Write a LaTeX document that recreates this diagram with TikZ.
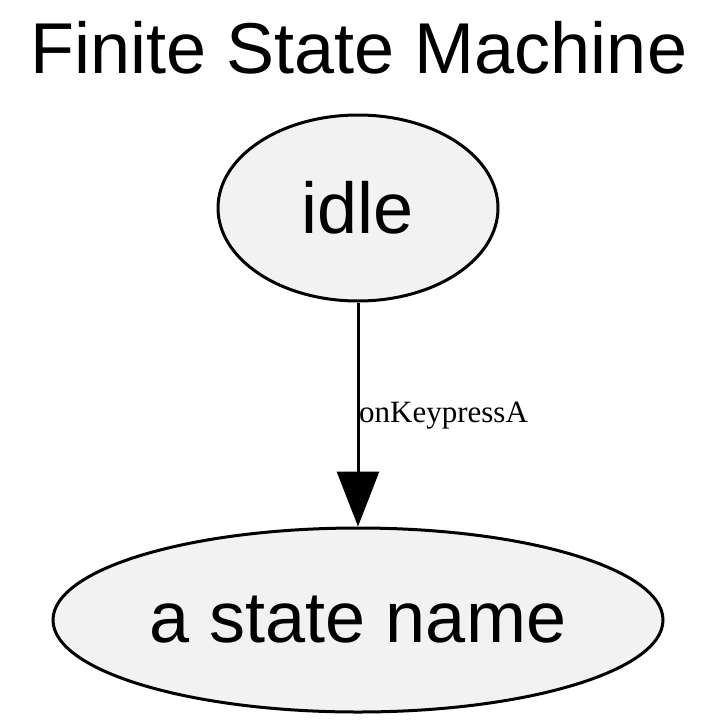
\documentclass[tikz,border=0pt]{standalone}
\usepackage{fontspec}
\setmainfont{Liberation Sans}
\newfontfamily\lserif{Liberation Serif}
\usetikzlibrary{shapes.geometric,arrows.meta}
\tikzset{state/.style={draw,line width=3pt,fill={rgb,255:red,242;green,242;blue,242},ellipse,inner sep=0pt,font=\fontsize{72}{72}\selectfont}}
\begin{document}
\begin{tikzpicture}[x=1pt,y=-1pt]
\useasboundingbox (0,0) rectangle (719,728);
\node (title) at (359,48) {\fontsize{72}{72}\selectfont Finite State Machine};
\node[state,minimum width=280pt,minimum height=186pt] (idle) at (358,208) {idle};
\node[state,minimum width=610pt,minimum height=184pt] (s) at (358,620) {a state name};
\draw[line width=3pt,-{Triangle[length=55pt,width=42pt]}] (idle) -- (s);
\node[anchor=west,font=\lserif\fontsize{31}{31}\selectfont,inner sep=0pt] (lab) at (359,416) {onKeypressA};
\end{tikzpicture}
\end{document}
